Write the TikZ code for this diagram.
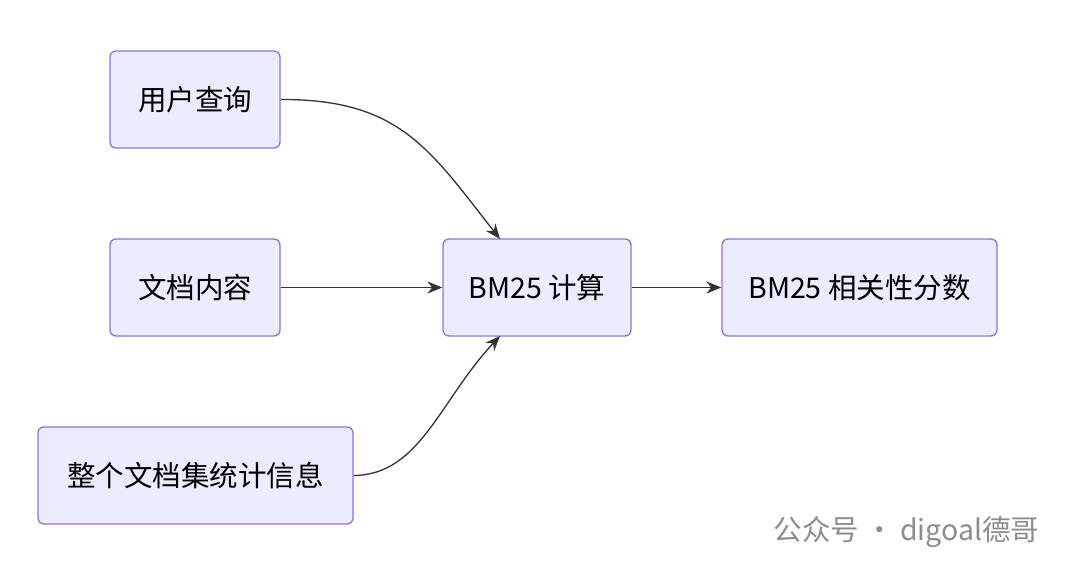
\documentclass[tikz,border=0pt]{standalone}
\usepackage{fontspec}
\setmainfont{Noto Sans CJK SC}
\usetikzlibrary{arrows.meta}
\definecolor{nfill}{HTML}{ECECFF}
\definecolor{nline}{HTML}{9370DB}
\definecolor{eline}{HTML}{333333}
\begin{document}
\begin{tikzpicture}[x=1pt,y=-1pt,
  box/.style={draw=nline,fill=nfill,line width=1.3pt,rounded corners=6pt,minimum height=97pt,inner sep=0pt,font=\fontsize{28.5}{32}\selectfont,text=black},
  edge/.style={draw=eline,line width=1.3pt,-{Stealth[length=15pt,width=12pt]}}]
\useasboundingbox (0,0) rectangle (1080,575);
\node[box,minimum width=170pt] (q) at (195,99.5) {用户查询};
\node[box,minimum width=170pt] (d) at (195,287.5) {文档内容};
\node[box,minimum width=315pt] (s) at (195.5,475.5) {整个文档集统计信息};
\node[box,minimum width=188pt] (c) at (537,287.5) {BM25 计算};
\node[box,minimum width=275pt] (r) at (859.5,287.5) {BM25 相关性分数};
\coordinate (ct) at (500,239);
\coordinate (cb) at (500,336);
\draw[edge] (q.east) .. controls (400,99) and (430,150) .. (ct);
\draw[edge] (d) -- (c);
\draw[edge] (s.east) .. controls (420,475) and (440,400) .. (cb);
\draw[edge] (c) -- (r);
\node[text=gray!90,font=\fontsize{28.5}{32}\selectfont,anchor=west] (w) at (770,532) {公众号 · digoal德哥};
\end{tikzpicture}
\end{document}
